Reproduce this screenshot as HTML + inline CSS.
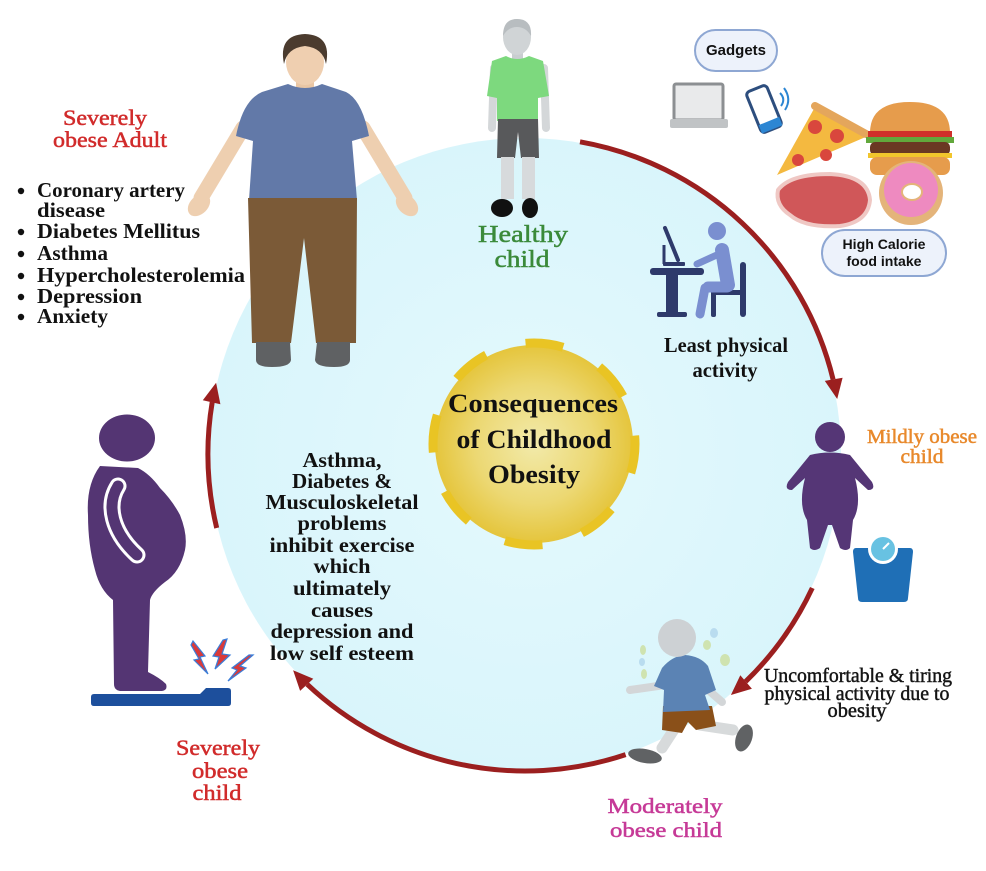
<!DOCTYPE html>
<html><head><meta charset="utf-8">
<style>
html,body{margin:0;padding:0;background:#fff;}
svg{display:block;}
.s{font-family:"Liberation Serif","DejaVu Serif",serif;}
.sb{font-family:"Liberation Serif","DejaVu Serif",serif;font-weight:bold;}
.ss{font-family:"Liberation Sans",Arial,sans-serif;font-weight:bold;}
</style></head><body>
<svg width="986" height="871" viewBox="0 0 986 871" xmlns="http://www.w3.org/2000/svg">
<defs>
<radialGradient id="bg" cx="50%" cy="50%" r="50%">
<stop offset="0" stop-color="#e4f9fd"/><stop offset="1" stop-color="#d9f5fb"/>
</radialGradient>
<radialGradient id="yg" cx="50%" cy="50%" r="50%">
<stop offset="0" stop-color="#f2eaaa"/><stop offset="0.6" stop-color="#ecd873"/><stop offset="1" stop-color="#e5c53c"/>
</radialGradient>
</defs>
<rect width="986" height="871" fill="#fff"/>
<circle cx="525" cy="454" r="316" fill="url(#bg)"/>

<!-- arrows -->
<g stroke="#9b1f1f" stroke-width="5" fill="none">
<path d="M580 141.8 A317 317 0 0 1 833.1 379.5"/>
<path d="M812.3 588 A317 317 0 0 1 745.6 681.6"/>
<path d="M625.6 754.6 A317 317 0 0 1 307.2 684.3"/>
<path d="M216.7 528 A317 317 0 0 1 212.2 402.2"/>
</g>
<g fill="#9b1f1f">
<polygon points="837.2,399 824.8,380.9 842.6,377.7"/>
<polygon points="730.9,695 740.3,675.2 751.9,688.8"/>
<polygon points="293.1,670.2 313.3,678.7 300.1,690.9"/>
<polygon points="216.1,382.7 220.4,404.2 202.8,400.2"/>
</g>

<!-- central yellow circle -->
<circle cx="534" cy="444" r="99" fill="url(#yg)"/>
<circle cx="534" cy="444" r="101" fill="none" stroke="#e9c424" stroke-width="9" stroke-dasharray="38 41.3" stroke-dashoffset="8.5"/>
<g class="sb" font-size="26" fill="#111" text-anchor="middle">
<text x="533" y="412" textLength="170" lengthAdjust="spacingAndGlyphs">Consequences</text>
<text x="534" y="448" textLength="155" lengthAdjust="spacingAndGlyphs">of Childhood</text>
<text x="534" y="483" textLength="92" lengthAdjust="spacingAndGlyphs">Obesity</text>
</g>

<!-- adult label + list -->
<g class="s" font-size="22" fill="#d12b2b" stroke="#d12b2b" stroke-width="0.5" text-anchor="middle">
<text x="105" y="125" textLength="84" lengthAdjust="spacingAndGlyphs">Severely</text>
<text x="110" y="147" textLength="114" lengthAdjust="spacingAndGlyphs">obese Adult</text>
</g>
<g class="sb" font-size="21.5" fill="#111">
<text x="37" y="197" textLength="148" lengthAdjust="spacingAndGlyphs">Coronary artery</text>
<text x="37" y="217" textLength="68" lengthAdjust="spacingAndGlyphs">disease</text>
<text x="37" y="238" textLength="163" lengthAdjust="spacingAndGlyphs">Diabetes Mellitus</text>
<text x="37" y="260" textLength="71" lengthAdjust="spacingAndGlyphs">Asthma</text>
<text x="37" y="282" textLength="208" lengthAdjust="spacingAndGlyphs">Hypercholesterolemia</text>
<text x="37" y="303" textLength="105" lengthAdjust="spacingAndGlyphs">Depression</text>
<text x="37" y="323" textLength="71" lengthAdjust="spacingAndGlyphs">Anxiety</text>
</g>
<g fill="#111">
<circle cx="21" cy="191" r="3.2"/><circle cx="21" cy="232" r="3.2"/><circle cx="21" cy="254" r="3.2"/>
<circle cx="21" cy="276" r="3.2"/><circle cx="21" cy="297" r="3.2"/><circle cx="21" cy="317" r="3.2"/>
</g>

<!-- adult man -->
<g>
<path d="M243 128 L201 198" stroke="#eecfb0" stroke-width="15" stroke-linecap="round"/>
<path d="M363 128 L405 198" stroke="#eecfb0" stroke-width="15" stroke-linecap="round"/>
<ellipse cx="199" cy="205" rx="9" ry="13" transform="rotate(45 199 205)" fill="#eecfb0"/>
<ellipse cx="407" cy="205" rx="9" ry="13" transform="rotate(-45 407 205)" fill="#eecfb0"/>
<rect x="296" y="76" width="18" height="12" fill="#e9c6a4"/>
<ellipse cx="305" cy="62" rx="19" ry="23" fill="#efcfb0"/>
<path d="M284 64 Q278 35 305 34 Q332 35 326 64 Q323 48 305 46 Q287 48 284 64 Z" fill="#4b3b2e"/>
<path d="M288 84 Q305 92 322 84 L346 92 Q362 100 369 136 L352 141 L357 200 Q303 208 249 200 L253 141 L236 136 Q243 100 262 92 Z" fill="#6279a8"/>
<path d="M248 198 L357 198 L356 343 L316 343 L304 238 L291 343 L252 343 Z" fill="#7b5a37"/>
<path d="M256 342 L290 342 L291 360 Q290 367 272 367 Q256 367 256 360 Z" fill="#5f6163"/>
<path d="M317 342 L350 342 L350 360 Q350 367 334 367 Q316 367 315 360 Z" fill="#5f6163"/>
</g>

<!-- healthy child -->
<g>
<path d="M494 68 L492 128" stroke="#d4d7d9" stroke-width="8" stroke-linecap="round"/>
<path d="M544 68 L546 128" stroke="#d4d7d9" stroke-width="8" stroke-linecap="round"/>
<rect x="512" y="50" width="11" height="9" fill="#c9cdd0"/>
<ellipse cx="517" cy="37" rx="14" ry="18" fill="#d0d4d6"/>
<path d="M503 36 Q503 19 517 19 Q532 19 531 36 Q526 27 517 27 Q508 27 503 36 Z" fill="#b8bdc0"/>
<path d="M506 56 Q517 62 529 56 L543 61 L549 96 L538 98 L538 121 L497 121 L497 98 L487 96 L492 61 Z" fill="#7dd97e"/>
<path d="M498 119 L538 119 L539 158 L521 158 L518 132 L515 158 L497 158 Z" fill="#58595b"/>
<rect x="501" y="157" width="13" height="42" fill="#d7dadc"/>
<rect x="522" y="157" width="13" height="42" fill="#d7dadc"/>
<ellipse cx="502" cy="208" rx="11" ry="9" fill="#111"/>
<ellipse cx="530" cy="208" rx="8" ry="10" fill="#111"/>
</g>
<g class="s" font-size="24" fill="#3b8a3a" stroke="#3b8a3a" stroke-width="0.5" text-anchor="middle">
<text x="523" y="242" textLength="90" lengthAdjust="spacingAndGlyphs">Healthy</text>
<text x="522" y="267" textLength="55" lengthAdjust="spacingAndGlyphs">child</text>
</g>

<!-- gadgets -->
<rect x="695" y="30" width="82" height="41" rx="20.5" fill="#edf2fb" stroke="#8ea7d3" stroke-width="2"/>
<text class="ss" x="736" y="55" font-size="15" fill="#111" text-anchor="middle" textLength="60" lengthAdjust="spacingAndGlyphs">Gadgets</text>
<rect x="674" y="84" width="49" height="36" rx="2" fill="#e9eaeb" stroke="#8c8f92" stroke-width="3"/>
<rect x="670" y="119" width="58" height="9" rx="2" fill="#c0c3c5"/>
<g transform="rotate(-22 764 109)">
<rect x="753" y="87" width="22" height="44" rx="4" fill="#fff" stroke="#2d4e7e" stroke-width="3"/>
<rect x="753" y="122" width="22" height="9" fill="#2c86d3"/>
</g>
<path d="M780 93 Q786 99 781 106 M784 88 Q792 99 785 110" stroke="#2c86d3" stroke-width="2" fill="none"/>

<!-- food -->
<polygon points="777,175 815,107 868,136" fill="#f4b940"/>
<line x1="815" y1="106" x2="866" y2="134" stroke="#e4a65c" stroke-width="8" stroke-linecap="round"/>
<g fill="#d9473d">
<circle cx="815" cy="127" r="7"/><circle cx="837" cy="136" r="7"/><circle cx="798" cy="160" r="6"/><circle cx="826" cy="155" r="6"/>
</g>
<path d="M870 133 Q870 102 910 102 Q950 102 950 133 Z" fill="#e69c4c"/>
<rect x="868" y="131" width="84" height="6" fill="#d0302a"/>
<rect x="866" y="137" width="88" height="6" fill="#62a83c"/>
<rect x="870" y="142" width="80" height="13" rx="5" fill="#6a3823"/>
<rect x="868" y="153" width="84" height="5" fill="#f2c52c"/>
<rect x="870" y="157" width="80" height="18" rx="7" fill="#e69c4c"/>
<path d="M778 190 Q790 174 830 174 Q868 176 870 200 Q868 222 840 226 Q805 228 790 215 Q775 205 778 190 Z" fill="#d05759" stroke="#efc8c4" stroke-width="4"/>
<circle cx="911" cy="193" r="32" fill="#e4b47a"/>
<circle cx="911" cy="190" r="27" fill="#ee8ac0"/>
<ellipse cx="912" cy="192" rx="10" ry="8" fill="#fff" stroke="#e4b47a" stroke-width="2"/>
<rect x="822" y="230" width="124" height="46" rx="23" fill="#edf2fb" stroke="#8ea7d3" stroke-width="2"/>
<g class="ss" font-size="14" fill="#111" text-anchor="middle">
<text x="884" y="249" textLength="83" lengthAdjust="spacingAndGlyphs">High Calorie</text>
<text x="884" y="266" textLength="75" lengthAdjust="spacingAndGlyphs">food intake</text>
</g>

<!-- desk person -->
<g fill="#2e3a6b">
<rect x="650" y="268" width="54" height="7" rx="3"/>
<rect x="666" y="274" width="12" height="40"/>
<rect x="657" y="312" width="30" height="5" rx="2"/>
<rect x="663" y="262" width="22" height="4" rx="1"/>
<rect x="740" y="262" width="6" height="55" rx="3"/>
<rect x="711" y="290" width="34" height="5" rx="2"/>
<rect x="711" y="290" width="5" height="27" rx="2"/>
</g>
<line x1="665" y1="228" x2="678" y2="260" stroke="#2e3a6b" stroke-width="4" stroke-linecap="round"/>
<line x1="664" y1="245" x2="664" y2="264" stroke="#2e3a6b" stroke-width="3"/>
<g stroke="#7a8fd0" stroke-linecap="round" fill="none">
<path d="M722 250 L728 285" stroke-width="14"/>
<path d="M719 254 L697 264" stroke-width="7"/>
<path d="M727 287 L708 287" stroke-width="11"/>
<path d="M705 288 L700 314" stroke-width="9"/>
</g>
<circle cx="717" cy="231" r="9" fill="#7a8fd0"/>
<g class="sb" font-size="21" fill="#111" text-anchor="middle">
<text x="726" y="352" textLength="124" lengthAdjust="spacingAndGlyphs">Least physical</text>
<text x="725" y="377" textLength="65" lengthAdjust="spacingAndGlyphs">activity</text>
</g>

<!-- mildly obese child -->
<circle cx="830" cy="437" r="15" fill="#553676"/>
<path d="M810 455 Q830 450 850 455 L872 482 Q876 490 868 490 L855 478 Q862 505 853 520 L850 548 Q846 552 840 548 L832 525 L828 525 L820 548 Q814 552 810 548 L807 520 Q798 505 805 478 L792 490 Q784 490 788 482 Z" fill="#553676"/>
<path d="M856 548 L910 548 Q913 548 913 552 L908 598 Q908 602 904 602 L862 602 Q858 602 858 598 L853 552 Q853 548 856 548 Z" fill="#1f6fb6"/>
<circle cx="883" cy="549" r="15" fill="#fff"/>
<circle cx="883" cy="549" r="12" fill="#68c2e2"/>
<line x1="883" y1="549" x2="889" y2="543" stroke="#fff" stroke-width="2"/>
<g class="s" font-size="20" fill="#e8892c" stroke="#e8892c" stroke-width="0.5" text-anchor="middle">
<text x="922" y="443" textLength="110" lengthAdjust="spacingAndGlyphs">Mildly obese</text>
<text x="922" y="463" textLength="43" lengthAdjust="spacingAndGlyphs">child</text>
</g>

<!-- running boy -->
<path d="M665 685 L630 690" stroke="#d3d6d8" stroke-width="8" stroke-linecap="round"/>
<path d="M706 688 L722 702" stroke="#d3d6d8" stroke-width="8" stroke-linecap="round"/>
<path d="M675 728 L662 748" stroke="#d7dadb" stroke-width="11" stroke-linecap="round"/>
<path d="M700 725 L733 730" stroke="#d7dadb" stroke-width="11" stroke-linecap="round"/>
<ellipse cx="645" cy="756" rx="17" ry="7" transform="rotate(10 645 756)" fill="#606264"/>
<ellipse cx="744" cy="738" rx="8" ry="14" transform="rotate(20 744 738)" fill="#606264"/>
<path d="M663 706 L712 706 L716 726 L696 730 L688 722 L682 733 L662 730 Z" fill="#8a5019"/>
<path d="M662 668 Q672 656 685 655 Q700 656 708 666 L716 690 L705 695 L710 710 L663 712 L664 690 L654 686 Z" fill="#5b83b4"/>
<circle cx="677" cy="638" r="19" fill="#cdd1d4"/>
<g fill="#cfe3b0">
<ellipse cx="643" cy="650" rx="3" ry="5"/><ellipse cx="644" cy="674" rx="3" ry="5"/><ellipse cx="707" cy="645" rx="4" ry="5"/><ellipse cx="725" cy="660" rx="5" ry="6"/>
</g>
<g fill="#b9dcef"><ellipse cx="642" cy="662" rx="3" ry="4"/><ellipse cx="714" cy="633" rx="4" ry="5"/></g>
<g class="s" font-size="19.5" fill="#151515" stroke="#151515" stroke-width="0.45" text-anchor="middle">
<text x="858" y="682" textLength="188" lengthAdjust="spacingAndGlyphs">Uncomfortable &amp; tiring</text>
<text x="857" y="700" textLength="185" lengthAdjust="spacingAndGlyphs">physical activity due to</text>
<text x="857" y="717" textLength="59" lengthAdjust="spacingAndGlyphs">obesity</text>
</g>
<g class="s" font-size="21" fill="#c63a97" stroke="#c63a97" stroke-width="0.5" text-anchor="middle">
<text x="665" y="813" textLength="115" lengthAdjust="spacingAndGlyphs">Moderately</text>
<text x="666" y="837" textLength="112" lengthAdjust="spacingAndGlyphs">obese child</text>
</g>

<!-- severely obese child -->
<ellipse cx="127" cy="438" rx="28" ry="23.5" fill="#543573"/>
<path d="M100 466 L138 468 Q150 474 160 488 Q172 500 180 515 Q188 535 185 550 Q180 572 165 582 Q152 592 150 600 L148 672 Q160 678 166 684 Q168 690 162 691 L120 691 Q114 690 114 684 L113 600 Q100 590 95 570 Q88 545 88 515 Q86 485 100 466 Z" fill="#543573"/>
<path d="M118 486 C106 505 112 532 137 555" stroke="#fff" stroke-width="17" stroke-linecap="round" fill="none"/>
<path d="M118 486 C106 505 112 532 137 555" stroke="#543573" stroke-width="11" stroke-linecap="round" fill="none"/>
<path d="M94 694 L200 694 L206 688 L228 688 Q231 688 231 691 L231 703 Q231 706 228 706 L94 706 Q91 706 91 703 L91 697 Q91 694 94 694 Z" fill="#1d4f9c"/>
<g fill="#d93a3a" stroke="#3b7dd8" stroke-width="1.2">
<polygon points="193,641 205,656 200,657 208,674 194,660 199,659 191,645"/>
<polygon points="227,639 222,654 230,655 215,669 219,657 213,656 223,640"/>
<polygon points="253,655 240,666 246,668 228,681 237,670 232,668 249,655"/>
</g>
<g class="s" font-size="22" fill="#d12b2b" stroke="#d12b2b" stroke-width="0.5" text-anchor="middle">
<text x="218" y="755" textLength="84" lengthAdjust="spacingAndGlyphs">Severely</text>
<text x="220" y="778" textLength="56" lengthAdjust="spacingAndGlyphs">obese</text>
<text x="217" y="800" textLength="49" lengthAdjust="spacingAndGlyphs">child</text>
</g>

<!-- middle paragraph -->
<g class="sb" font-size="21" fill="#111" text-anchor="middle">
<text x="342" y="467" textLength="79" lengthAdjust="spacingAndGlyphs">Asthma,</text>
<text x="342" y="488" textLength="100" lengthAdjust="spacingAndGlyphs">Diabetes &amp;</text>
<text x="342" y="509" textLength="153" lengthAdjust="spacingAndGlyphs">Musculoskeletal</text>
<text x="342" y="530" textLength="89" lengthAdjust="spacingAndGlyphs">problems</text>
<text x="342" y="552" textLength="145" lengthAdjust="spacingAndGlyphs">inhibit exercise</text>
<text x="342" y="573" textLength="57" lengthAdjust="spacingAndGlyphs">which</text>
<text x="342" y="595" textLength="98" lengthAdjust="spacingAndGlyphs">ultimately</text>
<text x="342" y="617" textLength="62" lengthAdjust="spacingAndGlyphs">causes</text>
<text x="342" y="638" textLength="143" lengthAdjust="spacingAndGlyphs">depression and</text>
<text x="342" y="660" textLength="144" lengthAdjust="spacingAndGlyphs">low self esteem</text>
</g>
</svg>
</body></html>
